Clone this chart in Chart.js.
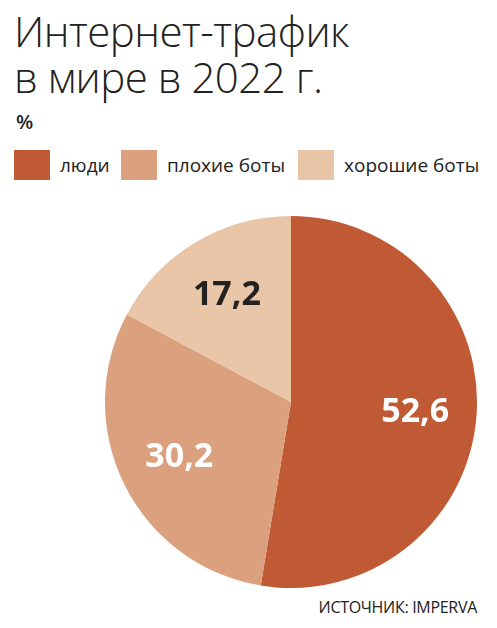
<!DOCTYPE html><html><head><meta charset="utf-8">
<script src="https://cdn.jsdelivr.net/npm/chart.js@4"></script>
<style>
body{margin:0;width:497px;height:628px;background:#fff;font-family:"Open Sans",sans-serif;position:relative;overflow:hidden;color:#222}
#t{position:absolute;left:14px;top:8px;font-size:42px;line-height:46px;font-weight:300;letter-spacing:-0.5px}
#u{position:absolute;left:16px;top:108px;font-size:20px;font-weight:600}
.lg{position:absolute;top:150px;font-size:19px;display:flex;align-items:center}
.lg i{display:inline-block;width:36px;height:30px;margin-right:10px}
#src{position:absolute;right:20px;top:596px;font-size:16px;letter-spacing:-0.3px}
#c{position:absolute;left:105px;top:216px}
</style></head><body>
<div id="t">Интернет-трафик<br>в мире в 2022 г.</div>
<div id="u">%</div>
<div class="lg" style="left:14px"><i style="background:#C05A35"></i>люди</div>
<div class="lg" style="left:121px"><i style="background:#DBA07E"></i>плохие боты</div>
<div class="lg" style="left:298px"><i style="background:#E9C6A8"></i>хорошие боты</div>
<div id="src">ИСТОЧНИК: IMPERVA</div>
<div id="c" style="width:372px;height:372px"><canvas id="cv"></canvas></div>
<script>
const categories=["люди","плохие боты","хорошие боты"];
const values=[52.6,30.2,17.2];
const labels=["52,6","30,2","17,2"];
const colors=["#C05A35","#DBA07E","#E9C6A8"];
const labelColors=["#fff","#fff","#222"];
const lbl={id:"lbl",afterDatasetsDraw(ch){const ctx=ch.ctx;const m=ch.getDatasetMeta(0);
m.data.forEach((a,i)=>{const p=a.tooltipPosition();const ang=(a.startAngle+a.endAngle)/2;const r=a.outerRadius*0.67;
ctx.save();ctx.font="bold 34px 'Open Sans'";ctx.fillStyle=labelColors[i];ctx.textAlign="center";ctx.textBaseline="middle";
ctx.fillText(labels[i],a.x+Math.cos(ang)*r,a.y+Math.sin(ang)*r);ctx.restore();});}};
new Chart(document.getElementById("cv"),{type:"pie",data:{labels:categories,datasets:[{data:values,backgroundColor:colors,borderWidth:0}]},
options:{responsive:true,maintainAspectRatio:false,animation:false,rotation:0,plugins:{legend:{display:false},tooltip:{enabled:false}},layout:{padding:0}},plugins:[lbl]});
</script></body></html>
